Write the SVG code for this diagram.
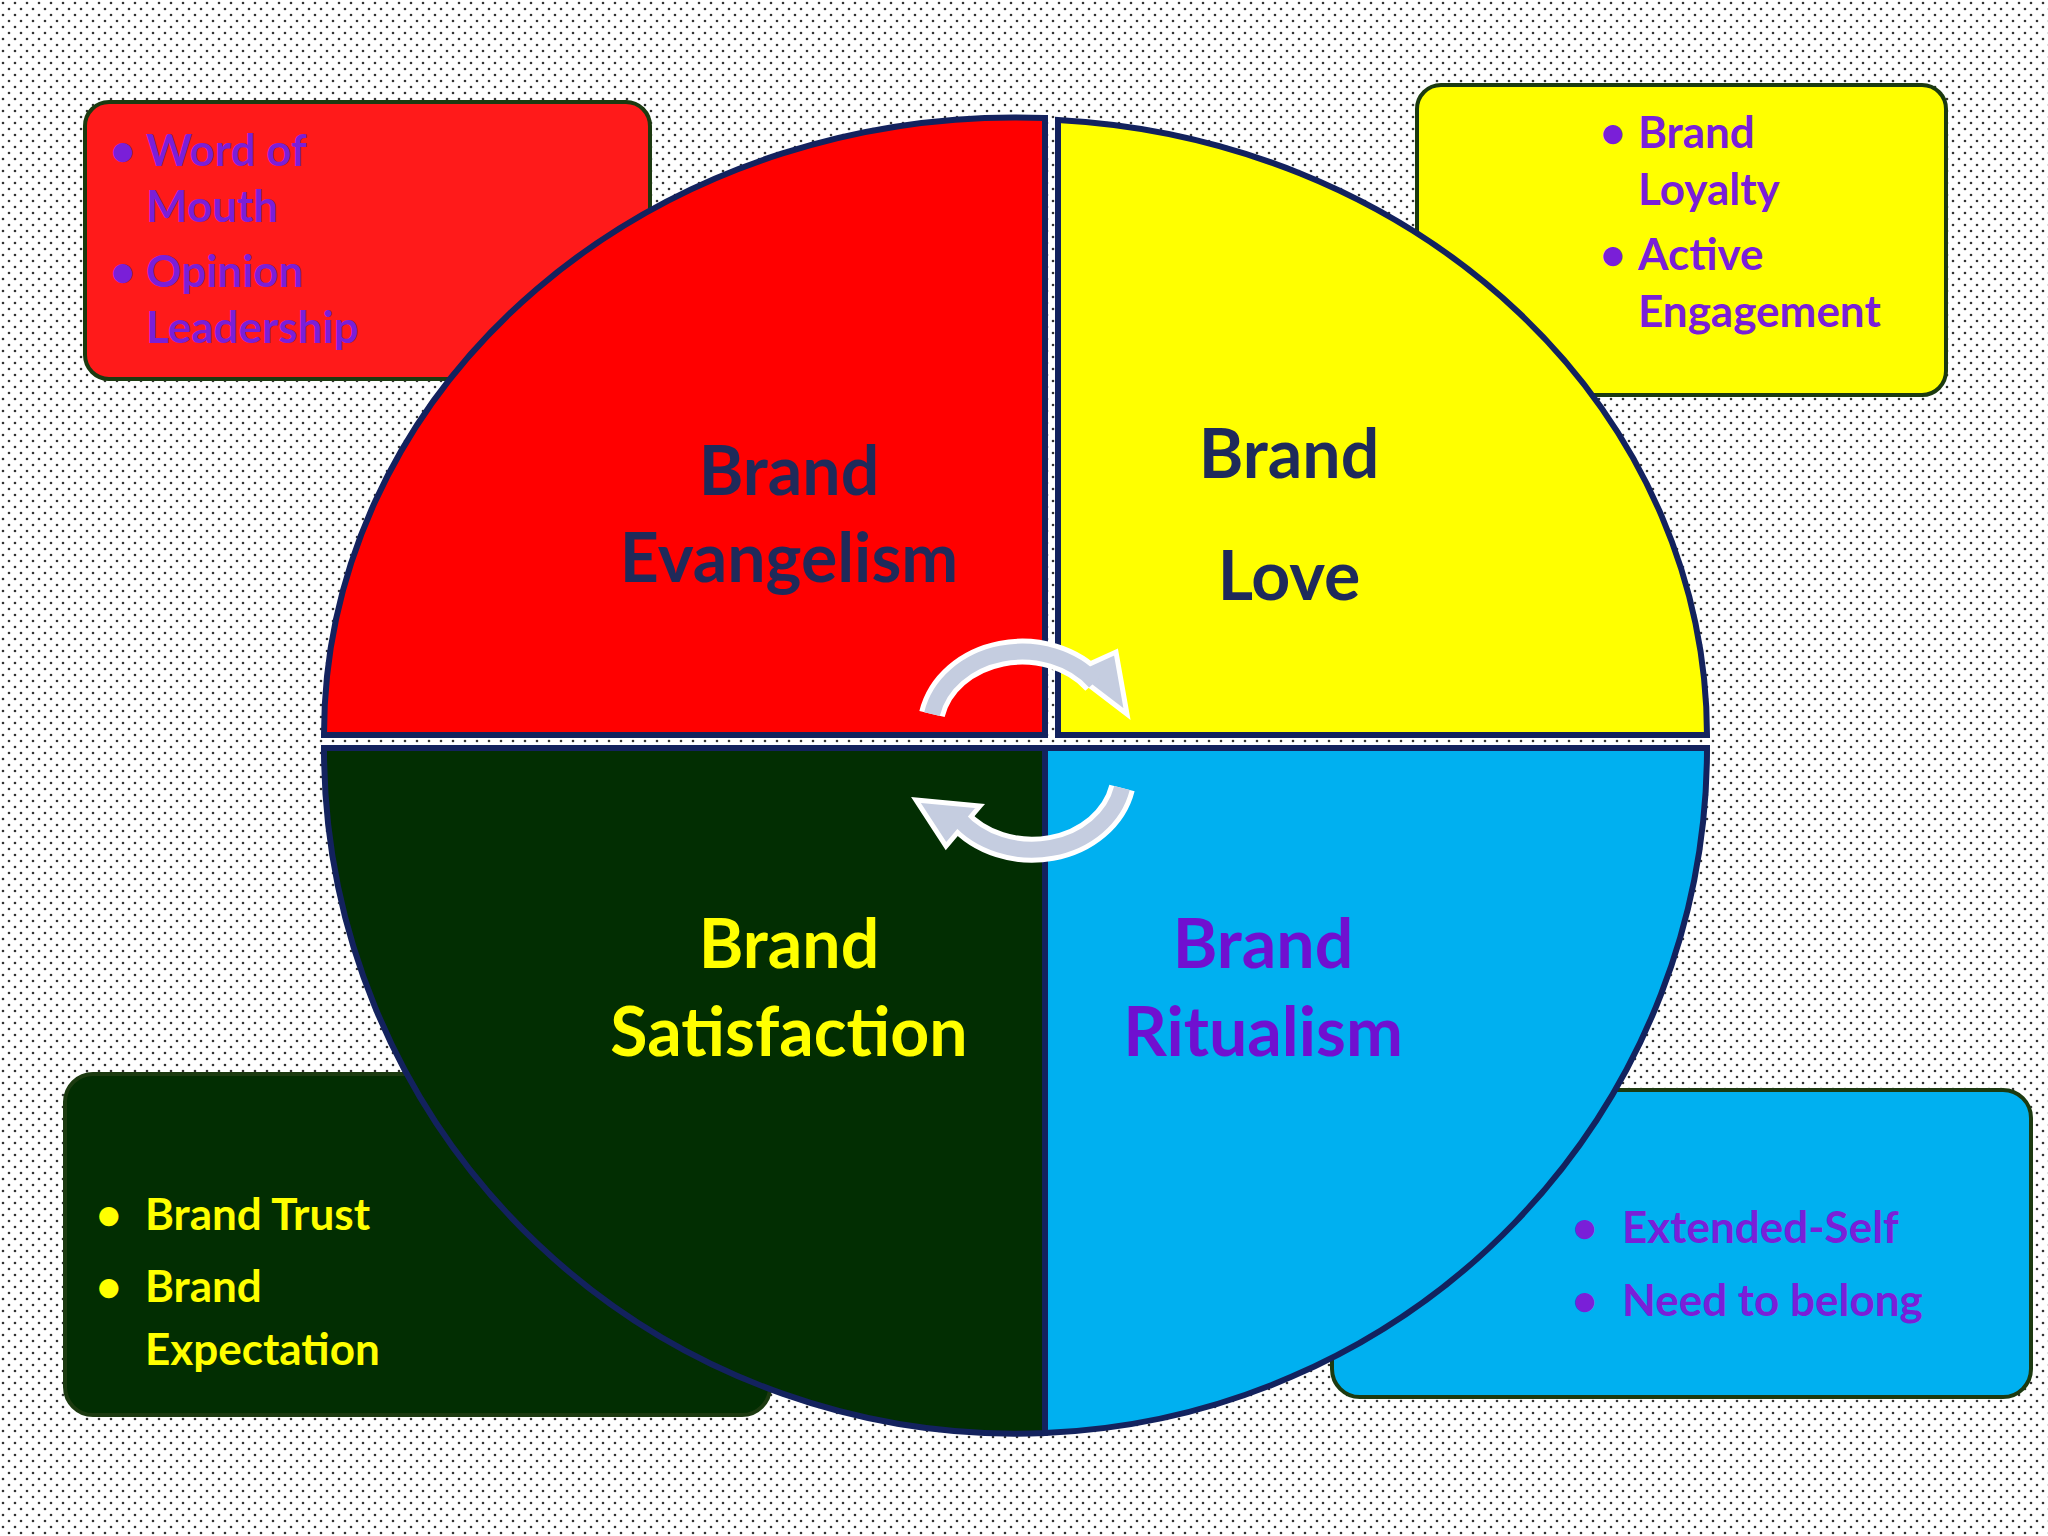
<svg xmlns="http://www.w3.org/2000/svg" width="2048" height="1536" viewBox="0 0 2048 1536">
<defs>
<pattern id="dots" width="12" height="12" patternUnits="userSpaceOnUse"><rect width="12" height="12" fill="#fff"/><circle cx="3" cy="3" r="1.3" fill="#333"/><circle cx="9" cy="9" r="1.3" fill="#333"/></pattern>
<style>
.box{stroke:#1c3a10;stroke-width:4}
.q{stroke:#13225e;stroke-width:6}
.big{font-family:Lato,"Open Sans",sans-serif;font-weight:bold;font-size:68px;text-anchor:middle}
.sm{font-family:Lato,"Open Sans",sans-serif;font-weight:bold;font-size:44px}
.arr{fill:none;stroke:#c5cde0;stroke-width:16}
.arrw{fill:none;stroke:#fff;stroke-width:26}
</style>
</defs>
<rect width="2048" height="1536" fill="url(#dots)"/>
<g id="box-red"><rect class="box" x="85" y="102" width="565" height="277" rx="24" fill="#ff1a1a"/>
<g class="sm" fill="#7a1fd8"><text x="110" y="166">•</text><text x="146" y="166">Word of</text><text x="146" y="222">Mouth</text><text x="110" y="287">•</text><text x="146" y="287">Opinion</text><text x="146" y="343">Leadership</text></g></g>
<g id="box-yellow"><rect class="box" x="1417" y="85" width="529" height="310" rx="24" fill="#ffff00"/>
<g class="sm" fill="#7a1fd8"><text x="1600" y="148">•</text><text x="1638" y="148">Brand</text><text x="1638" y="205">Loyalty</text><text x="1600" y="270">•</text><text x="1638" y="270">Active</text><text x="1638" y="327">Engagement</text></g></g>
<g id="box-green"><rect class="box" x="65" y="1074" width="705" height="341" rx="28" fill="#022e02"/>
<g class="sm" fill="#ffff00"><text x="96" y="1230">•</text><text x="145" y="1230">Brand Trust</text><text x="96" y="1302">•</text><text x="145" y="1302">Brand</text><text x="145" y="1365">Expectation</text></g></g>
<g id="box-blue"><rect class="box" x="1332" y="1090" width="699" height="307" rx="28" fill="#00b0f0"/>
<g class="sm" fill="#7a1fd8"><text x="1572" y="1243">•</text><text x="1622" y="1243">Extended-Self</text><text x="1572" y="1316">•</text><text x="1622" y="1316">Need to belong</text></g></g>
<g id="q-evangelism"><path class="q" d="M1045,735 L1045,118 A691,617 0 0 0 324,735 Z" fill="#ff0000"/>
<g class="big" fill="#1f2a5a"><text x="789" y="495">Brand</text><text x="789" y="582">Evangelism</text></g></g>
<g id="q-love"><path class="q" d="M1058,735 L1058,120 A691,617 0 0 1 1707,735 Z" fill="#ffff00"/>
<g class="big" fill="#1f2a5a"><text x="1289" y="478">Brand</text><text x="1289" y="600">Love</text></g></g>
<g id="q-satisfaction"><path class="q" d="M1045,748 L324,748 A691,685 0 0 0 1045,1433 Z" fill="#022e02"/>
<g class="big" fill="#ffff00"><text x="789" y="968">Brand</text><text x="789" y="1056">Satisfaction</text></g></g>
<g id="q-ritualism"><path class="q" d="M1045,748 L1707,748 A691,685 0 0 1 1045,1433 Z" fill="#00b0f0"/>
<g class="big" fill="#7010d0"><text x="1263" y="968">Brand</text><text x="1263" y="1056">Ritualism</text></g></g>
<g id="connectors">
<path class="arrw" d="M932,714 A92,78 0 0 1 1095,682"/>
<polygon points="1072,672 1116,652 1127,714" fill="#c5cde0" stroke="#fff" stroke-width="5"/>
<path class="arr" d="M932,714 A92,78 0 0 1 1095,682"/>
<path class="arrw" d="M1122,788 A92,78 0 0 1 958,818"/>
<polygon points="980,806 946,846 916,800" fill="#c5cde0" stroke="#fff" stroke-width="5"/>
<path class="arr" d="M1122,788 A92,78 0 0 1 958,818"/>
</g>
</svg>
